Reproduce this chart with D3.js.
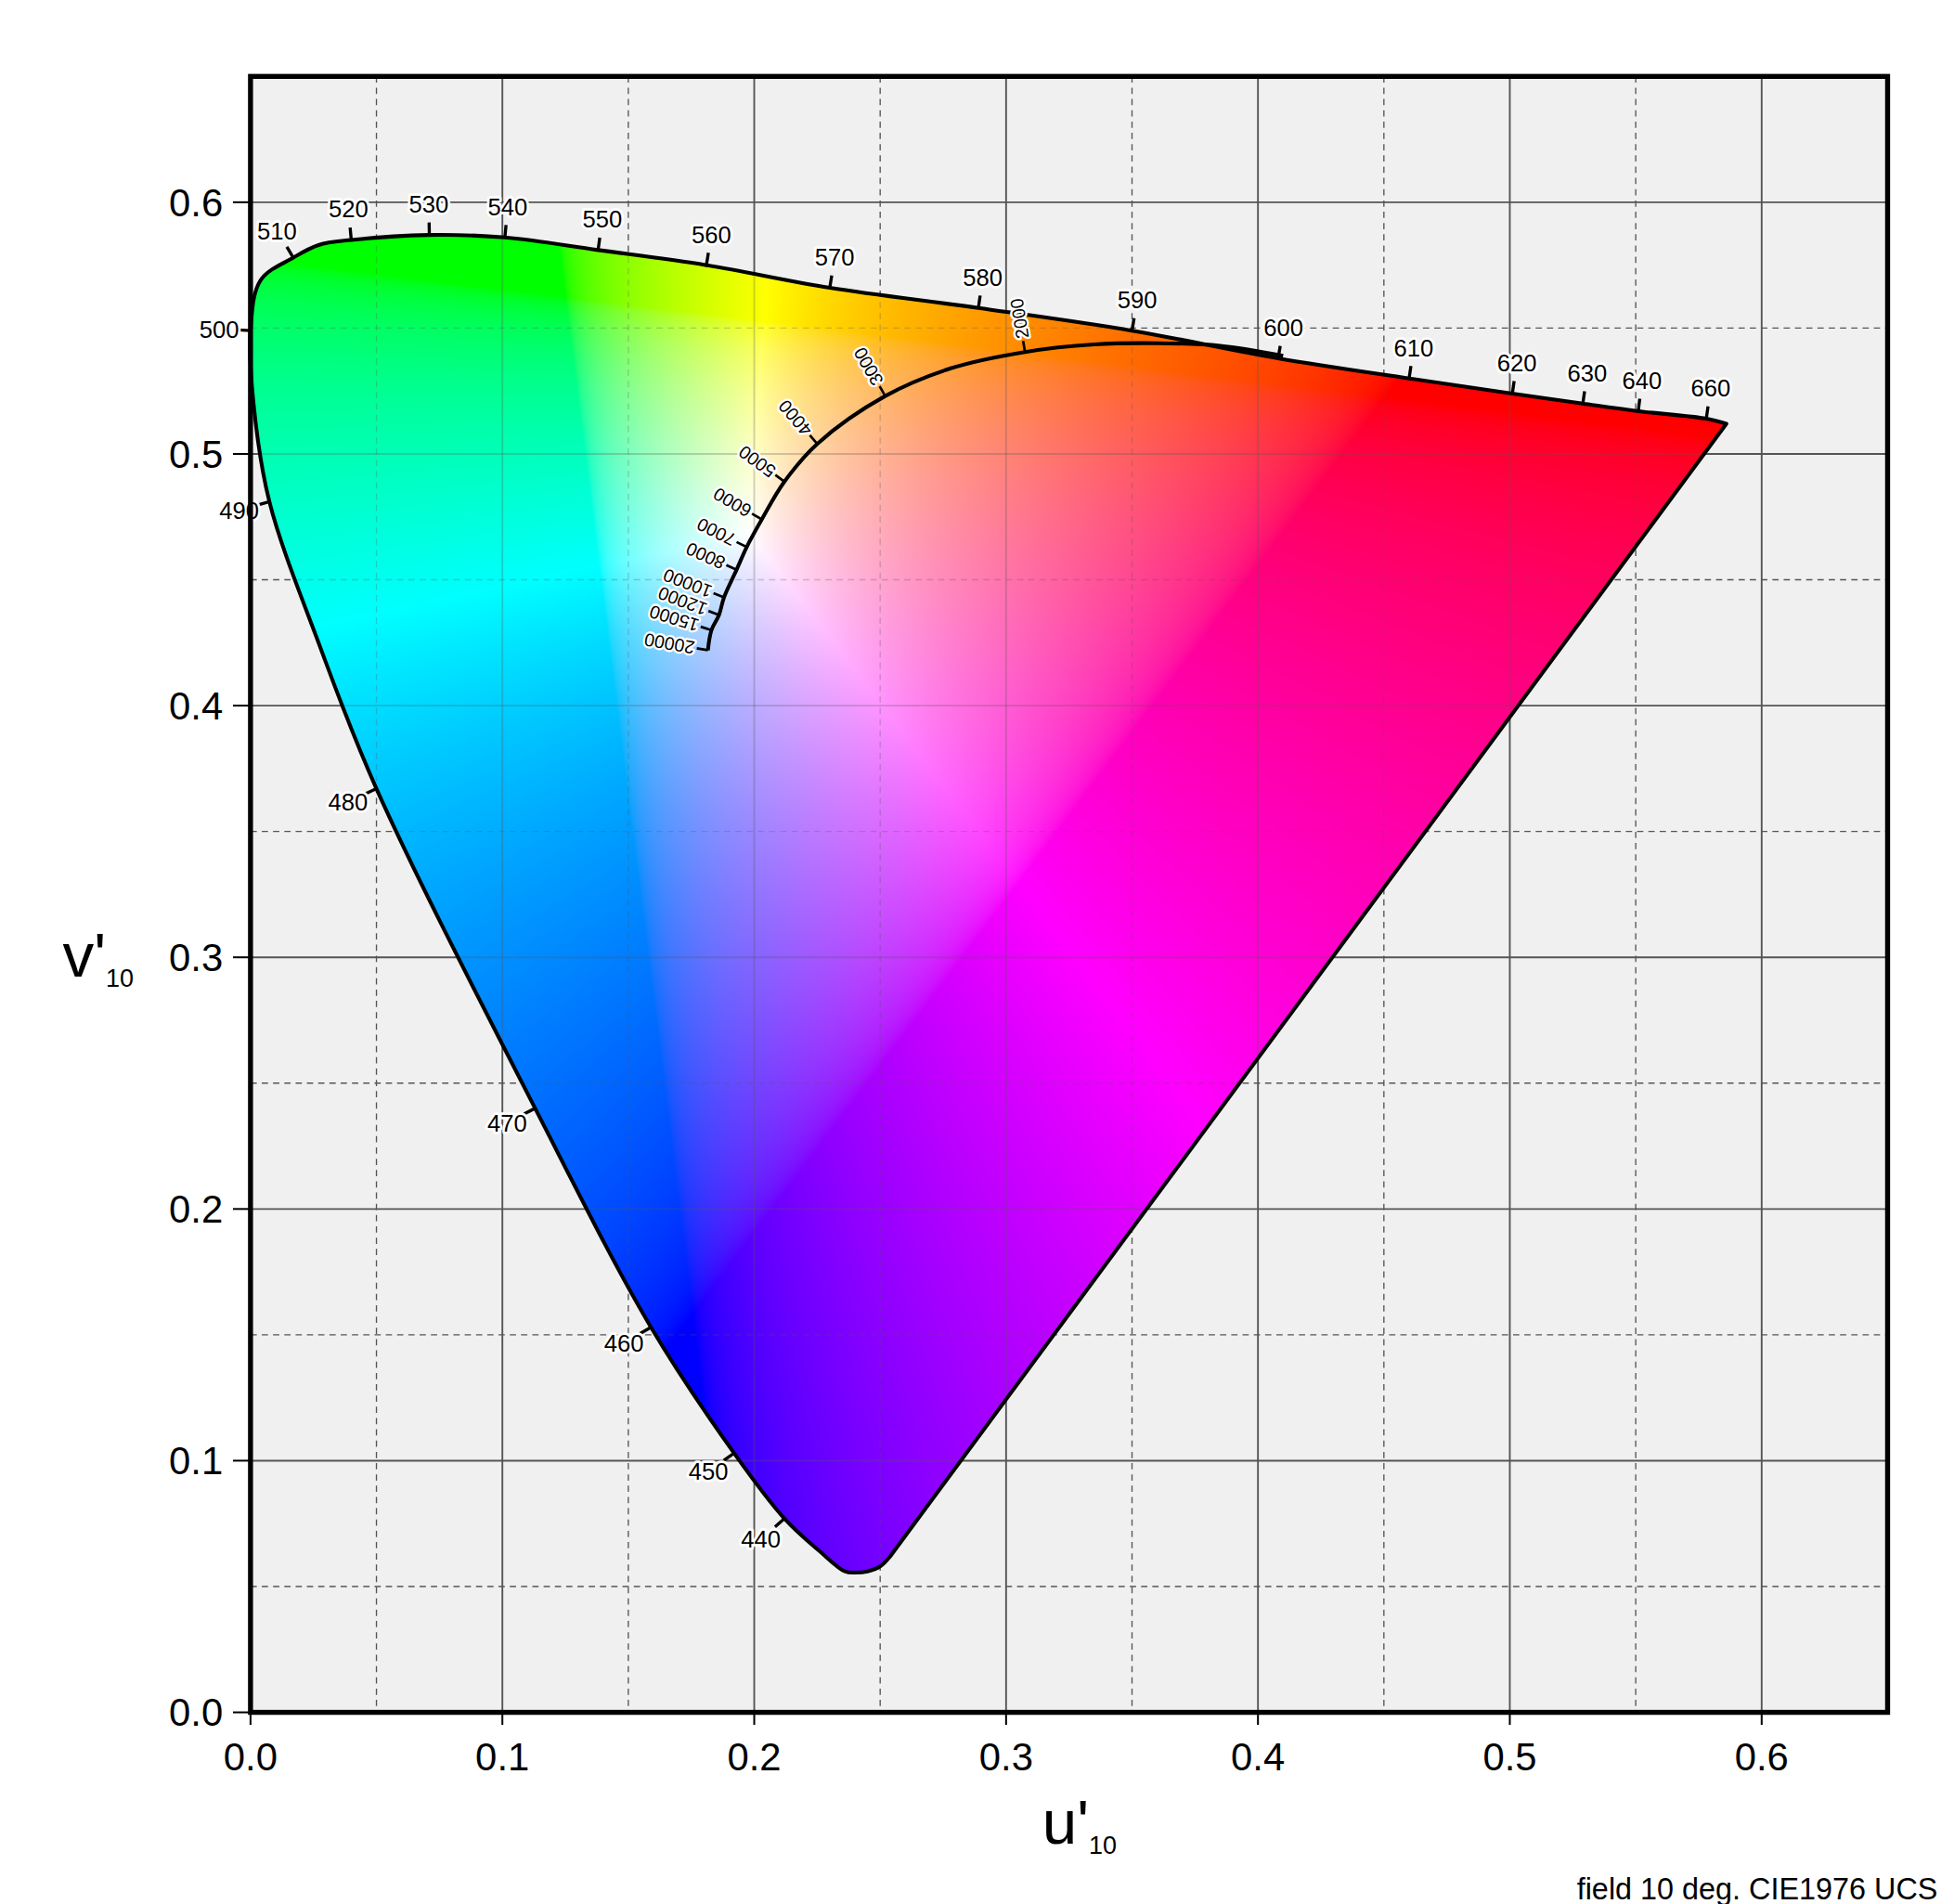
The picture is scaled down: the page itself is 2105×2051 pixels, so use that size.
<!DOCTYPE html>
<html>
<head>
<meta charset="utf-8">
<script src="https://cdn.jsdelivr.net/npm/d3@7"></script>
<style>
  body { margin: 0; background: #fff; }
  text { font-family: "Liberation Sans", Arial, sans-serif; }
</style>
</head>
<body>
<svg id="chart" width="2105" height="2051" viewBox="0 0 1560 1520"></svg>
<script>
// spectral locus (u', v')
var wavelengths = [380, 390, 400, 410, 420, 430, 440, 450, 460, 470, 480, 485, 490, 495, 500, 505, 510, 515, 520, 530, 540, 550, 560, 570, 580, 590, 600, 610, 620, 630, 640, 660, 700]
var locusU = [0.254, 0.250, 0.245, 0.240, 0.236, 0.226, 0.212, 0.192, 0.159, 0.113, 0.050, 0.027, 0.0075, 0.0012, 0.0, 0.004, 0.017, 0.027, 0.040, 0.071, 0.101, 0.138, 0.181, 0.230, 0.289, 0.350, 0.408, 0.460, 0.501, 0.529, 0.551, 0.578, 0.586]
var locusV = [0.062, 0.058, 0.056, 0.0555, 0.056, 0.064, 0.077, 0.103, 0.153, 0.240, 0.367, 0.425, 0.481, 0.520, 0.549, 0.569, 0.578, 0.583, 0.585, 0.587, 0.586, 0.581, 0.575, 0.566, 0.558, 0.549, 0.538, 0.530, 0.524, 0.520, 0.517, 0.514, 0.512]
var labelledWl = [440, 450, 460, 470, 480, 490, 500, 510, 520, 530, 540, 550, 560, 570, 580, 590, 600, 610, 620, 630, 640, 660]

// planckian locus
var temps = [20000, 15000, 12000, 10000, 8000, 7000, 6000, 5000, 4000, 3000, 2500, 2000, 1700, 1500, 1300, 1000]
var planckU = [0.1816, 0.183, 0.186, 0.188, 0.193, 0.197, 0.203, 0.212, 0.225, 0.252, 0.278, 0.3075, 0.335, 0.360, 0.385, 0.410]
var planckV = [0.422, 0.430, 0.436, 0.443, 0.454, 0.463, 0.474, 0.489, 0.504, 0.523, 0.534, 0.5405, 0.5435, 0.544, 0.543, 0.539]
var labelledT = [20000, 15000, 12000, 10000, 8000, 7000, 6000, 5000, 4000, 3000, 2000]

var xTicks = [0.0, 0.1, 0.2, 0.3, 0.4, 0.5, 0.6]
var yTicks = [0.0, 0.1, 0.2, 0.3, 0.4, 0.5, 0.6]
var minorTicks = [0.05, 0.15, 0.25, 0.35, 0.45, 0.55]

var pL = 200, pR = 1507, pT = 61, pB = 1367
var x = d3.scaleLinear().domain([0, 0.65]).range([pL, pR])
var y = d3.scaleLinear().domain([0, 0.65]).range([pB, pT])

var svg = d3.select('#chart')
svg.append('rect').attr('x', pL).attr('y', pT).attr('width', pR - pL).attr('height', pB - pT).attr('fill', '#f0f0f0')

function drawGrid(grp, op) {
  grp.selectAll('.maj-x').data(xTicks.slice(1)).enter().append('line')
    .attr('x1', d => x(d)).attr('x2', d => x(d)).attr('y1', pT).attr('y2', pB)
    .attr('stroke', '#555').attr('stroke-width', 1.4).attr('stroke-opacity', op)
  grp.selectAll('.maj-y').data(yTicks.slice(1)).enter().append('line')
    .attr('y1', d => y(d)).attr('y2', d => y(d)).attr('x1', pL).attr('x2', pR)
    .attr('stroke', '#555').attr('stroke-width', 1.4).attr('stroke-opacity', op)
  grp.selectAll('.min-x').data(minorTicks).enter().append('line')
    .attr('x1', d => x(d)).attr('x2', d => x(d)).attr('y1', pT).attr('y2', pB)
    .attr('stroke', '#555').attr('stroke-width', 1).attr('stroke-dasharray', '5,4').attr('stroke-opacity', op)
  grp.selectAll('.min-y').data(minorTicks).enter().append('line')
    .attr('y1', d => y(d)).attr('y2', d => y(d)).attr('x1', pL).attr('x2', pR)
    .attr('stroke', '#555').attr('stroke-width', 1).attr('stroke-dasharray', '5,4').attr('stroke-opacity', op)
}
drawGrid(svg.append('g'), 1)

// locus outline path
var locusPts = wavelengths.map((w, i) => [x(locusU[i]), y(locusV[i])])
var line = d3.line().curve(d3.curveCatmullRom.alpha(0.5))
var closedPath = line(locusPts) + 'Z'

// colour fill, computed per pixel from u'v'
var sc = 1.5
var cw = Math.round((pR - pL) * sc), ch = Math.round((pB - pT) * sc)
var canvas = document.createElement('canvas')
canvas.width = cw; canvas.height = ch
var ctx = canvas.getContext('2d')
var img = ctx.createImageData(cw, ch)
function gam(c) { return c <= 0.0031308 ? 12.92 * c : 1.055 * Math.pow(c, 1 / 2.4) - 0.055 }
for (var j = 0; j < ch; j++) {
  var v = y.invert(pT + j / sc)
  for (var i = 0; i < cw; i++) {
    var u = x.invert(pL + i / sc)
    var den = 6 * u - 16 * v + 12
    var cx = 9 * u / den, cy = 4 * v / den
    if (cy <= 0.0001) cy = 0.0001
    var X = cx / cy, Z = (1 - cx - cy) / cy
    var rr = Math.max(3.2406 * X - 1.5372 - 0.4986 * Z, 0)
    var gg = Math.max(-0.9689 * X + 1.8758 + 0.0415 * Z, 0)
    var bb = Math.max(0.0557 * X - 0.2040 + 1.0570 * Z, 0)
    var m = Math.max(rr, gg, bb) || 1
    var k = (j * cw + i) * 4
    img.data[k] = 255 * gam(rr / m)
    img.data[k + 1] = 255 * gam(gg / m)
    img.data[k + 2] = 255 * gam(bb / m)
    img.data[k + 3] = 255
  }
}
ctx.putImageData(img, 0, 0)

svg.append('clipPath').attr('id', 'locusClip').append('path').attr('d', closedPath)
svg.append('image').attr('href', canvas.toDataURL())
  .attr('x', pL).attr('y', pT).attr('width', pR - pL).attr('height', pB - pT)
  .attr('preserveAspectRatio', 'none').attr('clip-path', 'url(#locusClip)')

drawGrid(svg.append('g').attr('clip-path', 'url(#locusClip)'), 0.28)

svg.append('path').attr('d', closedPath).attr('fill', 'none').attr('stroke', '#000').attr('stroke-width', 3).attr('stroke-linejoin', 'round')

// wavelength ticks and labels
var cen = [x(0.25), y(0.33)]
labelledWl.forEach(function(w) {
  var i = wavelengths.indexOf(w)
  var p = locusPts[i], a = locusPts[i - 1], b = locusPts[i + 1]
  var tx = b[0] - a[0], ty = b[1] - a[1], L = Math.hypot(tx, ty)
  var nx = ty / L, ny = -tx / L
  if ((p[0] - cen[0]) * nx + (p[1] - cen[1]) * ny < 0) { nx = -nx; ny = -ny }
  svg.append('line').attr('x1', p[0]).attr('y1', p[1]).attr('x2', p[0] + nx * 10).attr('y2', p[1] + ny * 10)
    .attr('stroke', '#000').attr('stroke-width', 2.5)
  svg.append('text').attr('x', p[0] + nx * 25).attr('y', p[1] + ny * 25 + 7)
    .attr('text-anchor', 'middle').attr('font-size', 19).text(w)
    .attr('stroke', '#fff').attr('stroke-width', 4).attr('stroke-linejoin', 'round').attr('paint-order', 'stroke')
})

// planckian locus
var planckPts = temps.map((t, i) => [x(planckU[i]), y(planckV[i])])
svg.append('path').attr('d', line(planckPts)).attr('fill', 'none').attr('stroke', '#000').attr('stroke-width', 3)
labelledT.forEach(function(t) {
  var i = temps.indexOf(t)
  var p = planckPts[i], a = planckPts[Math.max(i - 1, 0)], b = planckPts[i + 1]
  var tx = b[0] - a[0], ty = b[1] - a[1], L = Math.hypot(tx, ty)
  var nx = ty / L, ny = -tx / L
  svg.append('line').attr('x1', p[0]).attr('y1', p[1]).attr('x2', p[0] + nx * 9).attr('y2', p[1] + ny * 9)
    .attr('stroke', '#000').attr('stroke-width', 2)
  var ang = Math.atan2(ny, nx) * 180 / Math.PI
  var lx = p[0] + nx * 11, ly = p[1] + ny * 11
  svg.append('text').attr('transform', 'translate(' + lx + ',' + ly + ') rotate(' + ang + ')')
    .attr('dy', '0.35em').attr('font-size', 14.5).text(t)
    .attr('stroke', '#fff').attr('stroke-width', 3.5).attr('stroke-linejoin', 'round').attr('paint-order', 'stroke')
})

// frame and axes
svg.append('rect').attr('x', pL).attr('y', pT).attr('width', pR - pL).attr('height', pB - pT)
  .attr('fill', 'none').attr('stroke', '#000').attr('stroke-width', 4)
svg.selectAll('.xt').data(xTicks).enter().append('line')
  .attr('x1', d => x(d)).attr('x2', d => x(d)).attr('y1', pB).attr('y2', pB + 10).attr('stroke', '#000').attr('stroke-width', 1.5)
svg.selectAll('.xl').data(xTicks).enter().append('text')
  .attr('x', d => x(d)).attr('y', pB + 46).attr('text-anchor', 'middle').attr('font-size', 31).text(d => d.toFixed(1))
svg.selectAll('.yt').data(yTicks).enter().append('line')
  .attr('y1', d => y(d)).attr('y2', d => y(d)).attr('x1', pL - 14).attr('x2', pL).attr('stroke', '#000').attr('stroke-width', 1.5)
svg.selectAll('.yl').data(yTicks).enter().append('text')
  .attr('x', pL - 22).attr('y', d => y(d) + 11).attr('text-anchor', 'end').attr('font-size', 31).text(d => d.toFixed(1))

var xl = svg.append('text').attr('x', 832).attr('y', 1472).attr('font-size', 50)
xl.append('tspan').text("u'")
xl.append('tspan').attr('font-size', 20).attr('dy', 8).text('10')
var yl = svg.append('text').attr('x', 50).attr('y', 780).attr('font-size', 50)
yl.append('tspan').text("v'")
yl.append('tspan').attr('font-size', 20).attr('dy', 8).text('10')

svg.append('text').attr('x', 1547).attr('y', 1516).attr('text-anchor', 'end').attr('font-size', 24).text('field 10 deg. CIE1976 UCS')
</script>
</body>
</html>
